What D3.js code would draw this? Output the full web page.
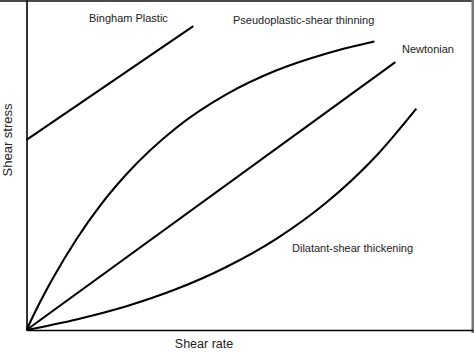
<!DOCTYPE html>
<html>
<head>
<meta charset="utf-8">
<script src="https://cdn.jsdelivr.net/npm/d3@7"></script>
<style>
  html, body { margin: 0; padding: 0; background: #fff; }
  svg { display: block; }
  text { font-family: "Liberation Sans", Arial, sans-serif; fill: #222; }
</style>
</head>
<body>
<svg id="chart" width="474" height="353"></svg>
<script>
// ---- data (arbitrary units) ----
const binghamRate   = [0, 3.74];
const binghamStress = [5.76, 9.21];

const newtonianRate   = [0, 8.27];
const newtonianStress = [0, 8.12];

const pseudoRate   = [0, 0.22, 0.56, 1.12, 1.68, 2.24, 3.36, 4.48, 5.61, 6.73, 7.80];
const pseudoStress = [0, 0.62, 1.49, 2.75, 3.82, 4.72, 6.13, 7.14, 7.87, 8.38, 8.74];

const dilatantRate   = [0, 1.12, 2.24, 3.36, 4.48, 5.61, 6.73, 7.85, 8.74];
const dilatantStress = [0, 0.32, 0.72, 1.24, 1.91, 2.77, 3.87, 5.29, 6.71];

const seriesNames = ["Bingham Plastic", "Pseudoplastic-shear thinning", "Newtonian", "Dilatant-shear thickening"];
const xTitle = "Shear rate";
const yTitle = "Shear stress";

// ---- drawing ----
const svg = d3.select("#chart");
const W = 474, H = 353;
const x = d3.scaleLinear().domain([0, 10]).range([26.5, 472.5]);
const y = d3.scaleLinear().domain([0, 10]).range([330, 0]);

const zip = (a, b) => a.map((v, i) => [v, b[i]]);
const series = [
  { pts: zip(binghamRate, binghamStress), curve: d3.curveLinear },
  { pts: zip(pseudoRate, pseudoStress), curve: d3.curveMonotoneX },
  { pts: zip(newtonianRate, newtonianStress), curve: d3.curveLinear },
  { pts: zip(dilatantRate, dilatantStress), curve: d3.curveMonotoneX }
];

// frame (top and right edges of the figure)
svg.append("rect").attr("x", 0).attr("y", 0).attr("width", W).attr("height", 2).attr("fill", "#4a4a4a");
svg.append("rect").attr("x", 471.5).attr("y", 0).attr("width", 2.5).attr("height", 333).attr("fill", "#777");

// axes
const xAxis = d3.axisBottom(x).tickValues([]).tickSizeOuter(0);
const yAxis = d3.axisLeft(y).tickValues([]).tickSizeOuter(0);
svg.append("g").attr("transform", `translate(0,${y(0)})`).call(xAxis)
  .select(".domain").attr("stroke", "#000").attr("stroke-width", 1.6);
svg.append("g").attr("transform", `translate(${x(0)},0)`).call(yAxis)
  .select(".domain").attr("stroke", "#000").attr("stroke-width", 1.6);

// curves
series.forEach(s => {
  const line = d3.line().x(d => x(d[0])).y(d => y(d[1])).curve(s.curve);
  svg.append("path").attr("d", line(s.pts))
    .attr("fill", "none").attr("stroke", "#000").attr("stroke-width", 2.1)
    .attr("stroke-linecap", "butt");
});

// series labels
const labelPos = [[89, 22], [233, 24], [402, 53], [292, 252]];
seriesNames.forEach((n, i) => {
  svg.append("text").attr("x", labelPos[i][0]).attr("y", labelPos[i][1])
    .attr("font-size", 11).text(n);
});

// axis titles
svg.append("text").attr("x", 204).attr("y", 348).attr("text-anchor", "middle")
  .attr("font-size", 12.5).text(xTitle);
svg.append("text").attr("transform", "translate(12,140) rotate(-90)")
  .attr("text-anchor", "middle").attr("font-size", 13).text(yTitle);
</script>
</body>
</html>
